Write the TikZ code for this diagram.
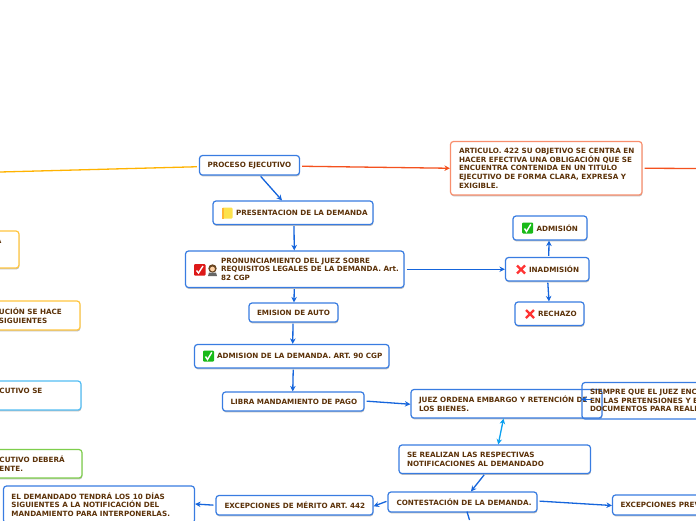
\documentclass[tikz,border=0pt]{standalone}
\usepackage{fontspec}
\setmainfont{DejaVu Sans}[BoldFont={DejaVu Sans Bold}]
\usetikzlibrary{arrows.meta,shadows,calc}
\definecolor{linkblue}{HTML}{1565DC}
\definecolor{txtbrown}{HTML}{5C3209}
\definecolor{cyanlink}{HTML}{0AA0F0}
\definecolor{redlink}{HTML}{F4511E}
\definecolor{yellowlink}{HTML}{FFB300}
\tikzset{
  x=1pt,y=-1pt,
  mapbox/.style={draw=linkblue!85!white,line width=1.2pt,rounded corners=3pt,fill=white,inner sep=0pt,text=txtbrown,
    general shadow={shadow xshift=.4pt,shadow yshift=-1.4pt,fill=black,opacity=.25}},
  noback/.style={draw=linkblue!85!white,line width=1.2pt,rounded corners=3pt,inner sep=0pt,text=txtbrown},
  redbox/.style={draw=redlink!65!white},
  yelbox/.style={draw=yellowlink!75!white},
  cyabox/.style={draw=cyanlink!70!white},
  grnbox/.style={draw=green!45!olive!70!white},
  conn/.style={draw=linkblue,line width=1.3pt,-{Stealth[length=5.5pt,width=5.5pt]}},
}
\newcommand{\mb}[8]{%
  \pgfmathsetmacro{\bw}{#4-#2}\pgfmathsetmacro{\bh}{#5-#3}%
  \pgfmathsetmacro{\bx}{(#2+#4)/2}\pgfmathsetmacro{\by}{(#3+#5)/2}%
  \node[#6,minimum width=\bw pt,minimum height=\bh pt] (#1) at (\bx,\by)
   {\makebox[\bw pt][l]{\hspace*{#7pt}\parbox[c]{420pt}{\raggedright\fontsize{7.2pt}{8.6pt}\selectfont\bfseries #8}}};}
\newcommand{\okicon}[2]{\begin{scope}[shift={(#1,#2)}]
  \fill[fill=green!70!black!90!white,rounded corners=1pt] (0,0) rectangle (11,11);
  \draw[white,line width=1.4pt] (2.5,6) -- (4.5,9) -- (8.8,1.8);\end{scope}}
\newcommand{\noicon}[2]{\begin{scope}[shift={(#1,#2)}]
  \draw[red!80!white,line width=2.4pt] (1,1) -- (9,9) (9,1) -- (1,9);\end{scope}}
\begin{document}
\begin{tikzpicture}
\useasboundingbox (0,0) rectangle (696,520);
\clip (0,0) rectangle (696,520);
\fill[white] (0,0) rectangle (696,520);
\mb{proc}{199.5}{155.5}{299.5}{175}{mapbox}{8}{PROCESO EJECUTIVO}
\mb{pres}{213}{201}{373}{224.5}{mapbox}{23}{PRESENTACION DE LA DEMANDA}
\mb{pron}{185.5}{251}{404}{287.5}{mapbox}{35.5}{PRONUNCIAMIENTO DEL JUEZ SOBRE\\REQUISITOS LEGALES DE LA DEMANDA. Art.\\82 CGP}
\mb{emis}{249}{303}{338}{322}{mapbox}{8}{EMISION DE AUTO}
\mb{admd}{194.5}{344.5}{389}{368}{mapbox}{22.5}{ADMISION DE LA DEMANDA. ART. 90 CGP}
\mb{libra}{222.5}{392}{364}{411}{mapbox}{8}{LIBRA MANDAMIENTO DE PAGO}
\mb{juez}{411}{389.5}{602}{418}{mapbox}{8}{JUEZ ORDENA EMBARGO Y RETENCIÓN DE\\LOS BIENES.}
\mb{siem}{582}{382.5}{760}{419}{noback}{8}{SIEMPRE QUE EL JUEZ ENC\\EN LAS PRETENSIONES Y E\\DOCUMENTOS PARA REALI}
\mb{noti}{399}{445}{590.5}{473.5}{mapbox}{8}{SE REALIZAN LAS RESPECTIVAS\\NOTIFICACIONES AL DEMANDADO}
\mb{cont}{388}{492}{537}{512}{mapbox}{8.5}{CONTESTACIÓN DE LA DEMANDA.}
\mb{prev}{612.5}{495}{760}{515}{mapbox}{8}{EXCEPCIONES PREV}
\mb{meri}{216}{495.5}{373}{515}{mapbox}{8.5}{EXCEPCIONES DE MÉRITO ART. 442}
\mb{dema}{3.5}{486}{194.5}{523}{mapbox}{8}{EL DEMANDADO TENDRÁ LOS 10 DÍAS\\SIGUIENTES A LA NOTIFICACIÓN DEL\\MANDAMIENTO PARA INTERPONERLAS.}
\mb{arti}{450.5}{141.5}{642}{195}{mapbox,redbox}{8.5}{ARTICULO. 422 SU OBJETIVO SE CENTRA EN\\HACER EFECTIVA UNA OBLIGACIÓN QUE SE\\ENCUENTRA CONTENIDA EN UN TITULO\\EJECUTIVO DE FORMA CLARA, EXPRESA Y\\EXIGIBLE.}
\mb{adms}{513}{216}{587}{240}{mapbox}{23.5}{ADMISIÓN}
\mb{inad}{505.5}{257.5}{589}{281}{mapbox}{23.5}{INADMISIÓN}
\mb{rech}{515}{302}{584}{325.5}{mapbox}{23}{RECHAZO}
\mb{lefta}{-100}{231}{19}{268}{mapbox,yelbox}{96}{A\\\mbox{}\\\mbox{}}
\mb{leftb}{-100}{301}{80}{330}{mapbox,yelbox}{99}{UCIÓN SE HACE\\SIGUIENTES}
\mb{leftc}{-100}{381}{81}{410}{mapbox,cyabox}{99.5}{CUTIVO SE\\\mbox{}}
\mb{leftd}{-100}{449.5}{82}{478}{mapbox,grnbox}{99.5}{CUTIVO DEBERÁ\\ENTE.}
% icons
\fill[yellow!75!orange!70!white,rounded corners=1pt] (222,207.5) rectangle (232.5,218.5);
\fill[orange!70!yellow!80!white] (222,207.5) rectangle (223.5,218.5);
\begin{scope}[shift={(194,264)}]
  \fill[red!85!black!90!white,rounded corners=1pt] (0,0) rectangle (11.5,11.5);
  \draw[white,line width=1.4pt] (2.5,6.5) -- (4.5,9) -- (9,2);
\end{scope}
\begin{scope}[shift={(207,264)}]
  \fill[black!45!brown] (5.5,4.5) circle (4.2);
  \fill[orange!35!white] (5.5,5) circle (2.4);
  \fill[black!60!white] (1,12) -- (2,8.5) -- (9,8.5) -- (10,12) -- cycle;
\end{scope}
\okicon{203}{350.5}
\okicon{522}{222.5}
\noicon{516}{264.5}
\noicon{525}{309}
% connectors
\draw[draw=yellowlink,line width=1.3pt] (proc.west) ++(-2,1.5) -- (0,172);
\draw[draw=redlink,line width=1.3pt,-{Stealth[length=5.5pt,width=5.5pt]}] ([xshift=2pt,yshift=-1pt]proc.east) -- (arti.west);
\coordinate (redend) at (696,168.5);
\draw[draw=redlink,line width=1.3pt] ([xshift=2pt]arti.east) -- (redend);
\draw[conn,shorten <=1pt] ([xshift=10.5pt]proc.south) -- ([xshift=-11pt]pres.north);
\draw[conn,shorten <=1pt] ([xshift=1pt]pres.south) -- ([xshift=-.5pt]pron.north);
\draw[conn,shorten <=1pt] ([xshift=-.5pt]pron.south) -- ([xshift=.5pt]emis.north);
\draw[conn,shorten <=1pt] ([xshift=-.5pt]emis.south) -- ([xshift=1pt]admd.north);
\draw[conn,shorten <=1pt] ([xshift=1.5pt]admd.south) -- ([xshift=-.5pt]libra.north);
\draw[conn,shorten <=2pt] ([yshift=.5pt]libra.east) -- ([yshift=-.5pt]juez.west);
\draw[conn,shorten <=2pt] (pron.east) -- (inad.west);
\draw[conn,shorten <=1pt] ([xshift=1.5pt]inad.north) -- ([xshift=-1pt]adms.south);
\draw[conn,shorten <=1pt] ([xshift=.5pt]inad.south) -- ([xshift=-.5pt]rech.north);
\draw[draw=cyanlink,line width=1.3pt,{Stealth[length=5.5pt,width=5.5pt]}-{Stealth[length=5.5pt,width=5.5pt]}] ([xshift=-3pt]juez.south) -- ([xshift=3.5pt]noti.north);
\draw[conn,shorten <=1pt] ([xshift=-10pt]noti.south) -- ([xshift=8.5pt]cont.north);
\draw[conn,shorten <=2pt] ([yshift=1pt]cont.east) -- ([yshift=-.5pt]prev.west);
\draw[conn,shorten <=1pt] ([yshift=1pt]cont.west) -- ([yshift=-1pt]meri.east);
\draw[conn,shorten <=2pt] (meri.west) -- ([yshift=.5pt]dema.east);
\draw[conn] ([xshift=11pt,yshift=1.5pt]siem.west) -- ([yshift=1.5pt]siem.west);
\coordinate (downend) at (469.5,520);
\draw[draw=linkblue,line width=1.3pt] ([xshift=4.5pt,yshift=1pt]cont.south) -- (downend);
\end{tikzpicture}
\end{document}
